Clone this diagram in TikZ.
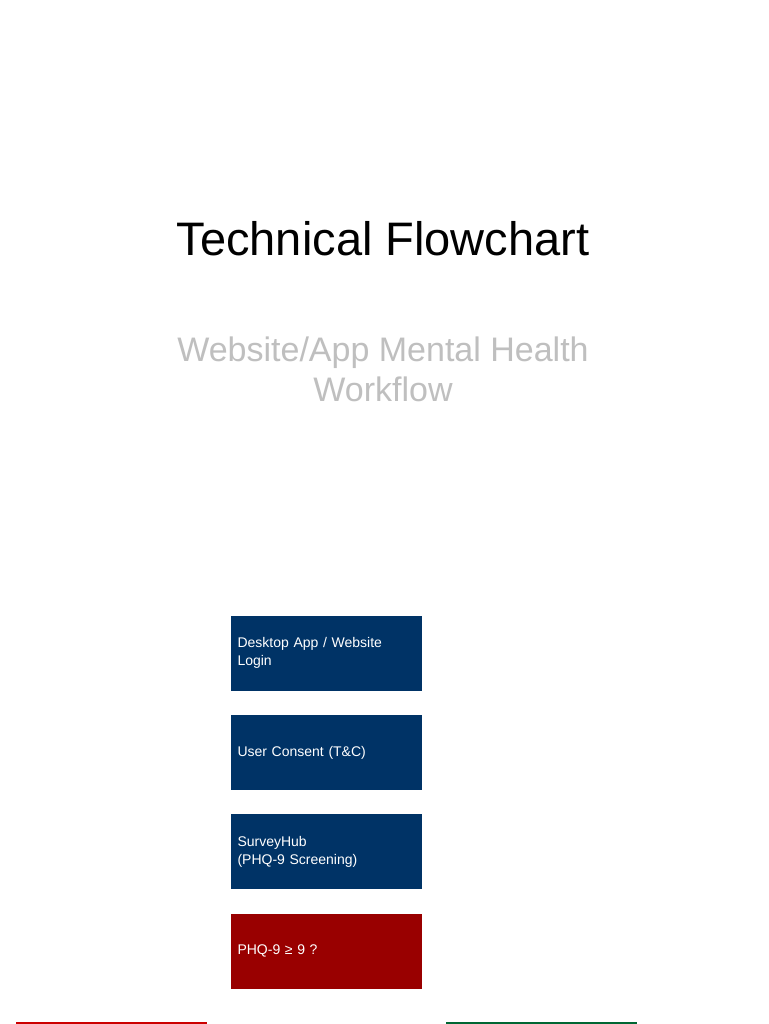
\documentclass[tikz,border=0pt]{standalone}
\usepackage{fontspec}
\setmainfont{Liberation Sans}
\usetikzlibrary{positioning}
\definecolor{navy}{RGB}{0,51,102}
\definecolor{darkred}{RGB}{153,0,0}
\definecolor{brightred}{RGB}{204,0,0}
\definecolor{darkgreen}{RGB}{0,102,51}
\definecolor{subgray}{RGB}{191,191,191}
\tikzstyle{stepbox} = [rectangle, minimum width=191pt, minimum height=75pt, text width=178pt, inner sep=6.5pt, align=left, text=white, font=\fontsize{14}{17.5}\selectfont]

\begin{document}
\begin{tikzpicture}[x=1pt, y=1pt, node distance=24pt]
\useasboundingbox (0,0) rectangle (768,-1024);
\clip (0,0) rectangle (768,-1024);
\fill[white] (0,0) rectangle (768,-1024);

 \node (title) [anchor=base, font=\fontsize{47}{56}\selectfont] at (383,-255) {Technical Flowchart};
 \node (subtitle) [align=center, text=subgray, font=\fontsize{34}{40}\selectfont] at (383,-369) {Website/App Mental Health\\Workflow};

 \node (login) [stepbox, fill=navy] at (326.5,-653) {Desktop App / Website\\Login};
 \node (consent) [stepbox, fill=navy, below=of login] {User Consent (T\&C)};
 \node (survey) [stepbox, fill=navy, below=of consent] {SurveyHub\\(PHQ-9 Screening)};
 \node (check) [stepbox, fill=darkred, below=of survey] {PHQ-9 ≥ 9 ?};

 % branches, cut off by the page edge
 \node (high) [stepbox, fill=brightred, anchor=north] at (111.5,-1021.5) {};
 \node (low) [stepbox, fill=darkgreen, anchor=north] at (541,-1021.5) {};
\end{tikzpicture}
\end{document}
